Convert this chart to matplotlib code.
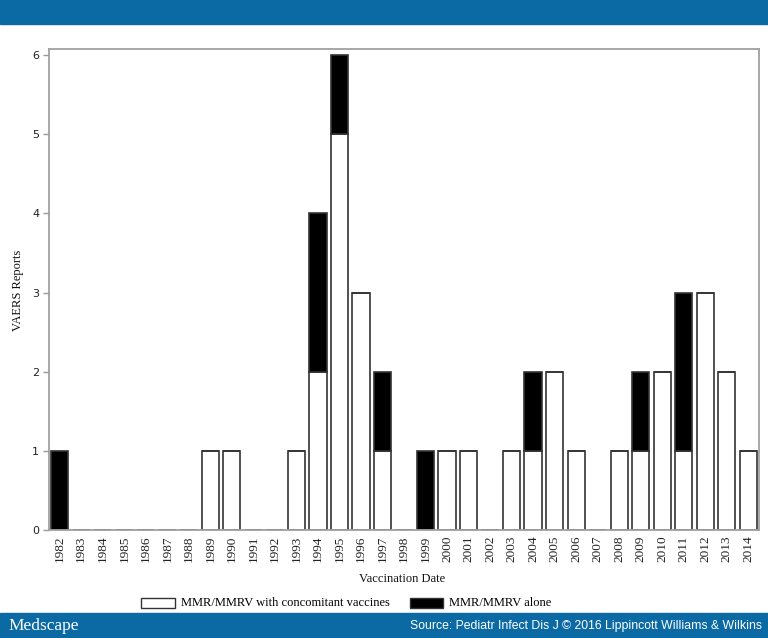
import matplotlib
matplotlib.use("Agg")
import matplotlib.pyplot as plt
from matplotlib.patches import Rectangle
import numpy as np

years = [str(y) for y in range(1982, 2015)]
concomitant = [0, 0, 0, 0, 0, 0, 0, 1, 1, 0, 0, 1, 2, 5, 3, 1, 0, 0, 1, 1, 0, 1, 1, 2, 1, 0, 1, 1, 2, 1, 3, 2, 1]
alone       = [1, 0, 0, 0, 0, 0, 0, 0, 0, 0, 0, 0, 2, 1, 0, 1, 0, 1, 0, 0, 0, 0, 1, 0, 0, 0, 0, 1, 0, 2, 0, 0, 0]
y_ticks = [0, 1, 2, 3, 4, 5, 6]
legend_labels = ["MMR/MMRV with concomitant vaccines", "MMR/MMRV alone"]

W, H = 768, 638
fig = plt.figure(figsize=(W / 100, H / 100), dpi=100)
blue = "#0b6aa4"

# header & footer bands
fig.patches.append(Rectangle((0, 1 - 24 / H), 1, 24 / H, transform=fig.transFigure, color=blue, zorder=0))
fig.patches.append(Rectangle((0, 0), 1, 25 / H, transform=fig.transFigure, color=blue, zorder=0))
fig.text(8 / W, 12.5 / H, "Medscape", color="white", fontsize=12.5, family="Liberation Serif",
         va="center", ha="left")
fig.text(762 / W, 12 / H, "Source: Pediatr Infect Dis J © 2016 Lippincott Williams & Wilkins",
         color="white", fontsize=8.8, family="Liberation Sans", va="center", ha="right")

ax = fig.add_axes([49 / W, 1 - 530 / H, (759 - 49) / W, (530 - 49) / H])
x = np.arange(len(years))
bw = 0.8
ax.bar(x, concomitant, width=bw, color="white", edgecolor="#333333", linewidth=1.2, zorder=2)
ax.bar(x, alone, width=bw, bottom=concomitant, color="black", edgecolor="#333333", linewidth=1.2, zorder=2)

ax.set_xlim(-0.5, 32.5)
ax.set_ylim(0, 6.076)
ax.set_yticks(y_ticks)
ax.set_yticklabels([str(v) for v in y_ticks], fontsize=8, family="DejaVu Sans", color="#222222")
ax.set_xticks(x)
ax.set_xticklabels(years, rotation=90, fontsize=9.5, family="Liberation Serif", color="#222222")
ax.tick_params(axis="x", length=0, pad=4)
ax.tick_params(axis="y", length=4, color="#999999", width=1, pad=3)
for s in ax.spines.values():
    s.set_color("#a0a0a0")
    s.set_linewidth(1.3)

fig.text(402 / W, 1 - 579 / H, "Vaccination Date", fontsize=9, family="Liberation Serif",
         ha="center", va="center", color="#111111")
fig.text(18 / W, 1 - 290 / H, "VAERS Reports", fontsize=9, family="Liberation Serif",
         ha="center", va="center", rotation=90, color="#111111")

# legend
ly = 1 - 603 / H
bh = 10 / H
fig.patches.append(Rectangle((141 / W, ly - bh / 2), 34 / W, bh, transform=fig.transFigure,
                             facecolor="white", edgecolor="#333333", linewidth=1.0))
fig.text(181 / W, ly, legend_labels[0], fontsize=9, family="Liberation Serif", va="center", ha="left")
fig.patches.append(Rectangle((410 / W, ly - bh / 2), 33 / W, bh, transform=fig.transFigure,
                             facecolor="black", edgecolor="#333333", linewidth=1.0))
fig.text(449 / W, ly, legend_labels[1], fontsize=9, family="Liberation Serif", va="center", ha="left")

fig.savefig("out.png", dpi=100)
